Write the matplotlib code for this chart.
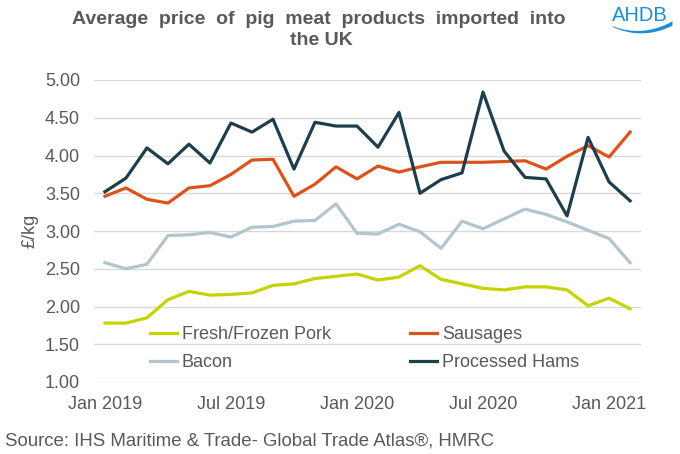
import numpy as np
import matplotlib.pyplot as plt

months = ["Jan 2019", "Feb 2019", "Mar 2019", "Apr 2019", "May 2019", "Jun 2019",
          "Jul 2019", "Aug 2019", "Sep 2019", "Oct 2019", "Nov 2019", "Dec 2019",
          "Jan 2020", "Feb 2020", "Mar 2020", "Apr 2020", "May 2020", "Jun 2020",
          "Jul 2020", "Aug 2020", "Sep 2020", "Oct 2020", "Nov 2020", "Dec 2020",
          "Jan 2021", "Feb 2021"]
tick_labels = ["Jan 2019", "Jul 2019", "Jan 2020", "Jul 2020", "Jan 2021"]

pork = [1.78, 1.78, 1.85, 2.09, 2.20, 2.15, 2.16, 2.18, 2.28, 2.30, 2.37, 2.40,
        2.43, 2.35, 2.39, 2.54, 2.36, 2.30, 2.24, 2.22, 2.26, 2.26, 2.22, 2.01,
        2.11, 1.97]
sausages = [3.46, 3.57, 3.42, 3.37, 3.57, 3.60, 3.75, 3.94, 3.95, 3.46, 3.62, 3.85,
            3.69, 3.86, 3.78, 3.85, 3.91, 3.91, 3.91, 3.92, 3.93, 3.82, 3.99, 4.13,
            3.98, 4.31]
bacon = [2.58, 2.50, 2.56, 2.94, 2.95, 2.98, 2.92, 3.05, 3.06, 3.13, 3.14, 3.36,
         2.97, 2.96, 3.09, 2.99, 2.77, 3.13, 3.03, 3.16, 3.29, 3.22, 3.12, 3.01,
         2.90, 2.58]
hams = [3.52, 3.70, 4.10, 3.89, 4.15, 3.90, 4.43, 4.31, 4.48, 3.82, 4.44, 4.39,
        4.39, 4.11, 4.57, 3.50, 3.68, 3.77, 4.84, 4.06, 3.71, 3.69, 3.20, 4.24,
        3.65, 3.40]

plt.rcParams['font.family'] = ['Liberation Sans', 'DejaVu Sans']
text_col = '#595959'
W, H = 680, 454

fig = plt.figure(figsize=(6.8, 4.54), dpi=100)
ax = fig.add_axes([94 / W, 1 - 382 / H, (641 - 94) / W, (382 - 80) / H])

x = np.arange(len(months))
l_pork, = ax.plot(x, pork, color='#c5d300', lw=2.3, label='Fresh/Frozen Pork')
l_saus, = ax.plot(x, sausages, color='#da531c', lw=2.3, label='Sausages')
l_bacon, = ax.plot(x, bacon, color='#b2c5cd', lw=2.3, label='Bacon')
l_hams, = ax.plot(x, hams, color='#1f3e4b', lw=2.3, label='Processed Hams')

ax.set_xlim(-0.52, 25.52)
ax.set_ylim(1.0, 5.0)
yt = np.arange(1.0, 5.01, 0.5)
ax.set_yticks(yt)
ax.set_yticklabels([f"{v:.2f}" for v in yt])
ax.set_xticks([months.index(t) for t in tick_labels])
ax.set_xticklabels(tick_labels)
ax.tick_params(length=0, labelsize=13, labelcolor=text_col, pad=10)
ax.grid(axis='y', color='#d9d9d9', lw=1)
ax.set_axisbelow(True)
for s in ax.spines.values():
    s.set_visible(False)
ax.set_ylabel('£/kg', fontsize=13, color=text_col, labelpad=5)

ax.legend(handles=[l_pork, l_bacon, l_saus, l_hams], ncol=2, frameon=False,
          fontsize=13, labelcolor=text_col, handlelength=1.5, handletextpad=0.25,
          columnspacing=4.4, labelspacing=0.62, borderpad=0, borderaxespad=0,
          loc='center left', bbox_to_anchor=(150 / W, 1 - 348.5 / H),
          bbox_transform=fig.transFigure)

fig.text(319 / W, 1 - 23.5 / H,
         'Average  price  of  pig  meat  products  imported  into',
         ha='center', va='baseline', fontsize=14, fontweight='bold', color=text_col)
fig.text(321 / W, 1 - 45 / H, 'the UK',
         ha='center', va='baseline', fontsize=14, fontweight='bold', color=text_col)

fig.text(5 / W, 1 - 446 / H,
         'Source: IHS Maritime & Trade- Global Trade Atlas®, HMRC',
         ha='left', va='baseline', fontsize=13.4, color=text_col)

# AHDB logo
logo_col = '#1a8fd3'
fig.text(640 / W, 1 - 21 / H, 'AHDB', ha='center', va='baseline',
         fontsize=14.5, color=logo_col)
lax = fig.add_axes([606 / W, 1 - 36 / H, 70 / W, 16 / H])
px = np.linspace(612, 672, 120)
t = (px - 612) / 60
yc = 26 + 25.1 * t - 28.1 * t ** 2
th = 0.8 + 3.6 * t
lax.fill_between(px, yc - th / 2, yc + th / 2, color=logo_col, lw=0)
lax.set_xlim(606, 676)
lax.set_ylim(36, 20)
lax.axis('off')

fig.savefig('out.png', dpi=100)
